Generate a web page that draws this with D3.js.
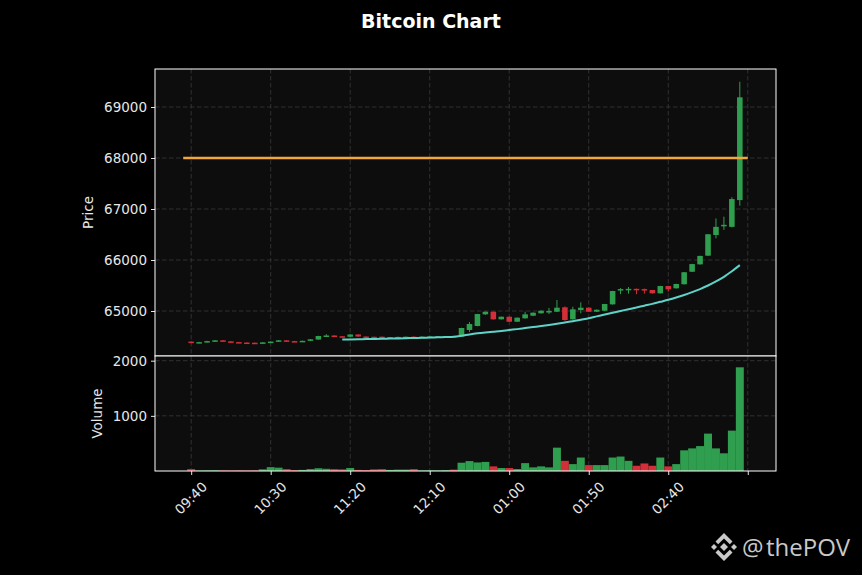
<!DOCTYPE html>
<html>
<head>
<meta charset="utf-8">
<title>Bitcoin Chart</title>
<script src="https://cdn.jsdelivr.net/npm/d3@7"></script>
<style>
  body { margin: 0; background: #000; }
  svg { display: block; font-family: "DejaVu Sans", sans-serif; }
  .axis text { fill: #e6e6e6; font-size: 13.5px; font-family: "DejaVu Sans", sans-serif; }
  .axis line { stroke: #e6e6e6; }
  .grid line { stroke: #3a3a3a; stroke-width: 0.8; stroke-dasharray: 4.5,2.5; }
</style>
</head>
<body>
<div id="chart"></div>
<script>

// candle times (5 minute bars)

var times = [
	"09:40","09:45","09:50","09:55","10:00","10:05","10:10","10:15","10:20","10:25",
	"10:30","10:35","10:40","10:45","10:50","10:55","11:00","11:05","11:10","11:15",
	"11:20","11:25","11:30","11:35","11:40","11:45","11:50","11:55","12:00","12:05",
	"12:10","12:15","12:20","12:25","12:30","12:35","12:40","12:45","12:50","12:55",
	"13:00","13:05","13:10","13:15","13:20","13:25","13:30","13:35","13:40","13:45",
	"13:50","13:55","14:00","14:05","14:10","14:15","14:20","14:25","14:30","14:35",
	"14:40","14:45","14:50","14:55","15:00","15:05","15:10","15:15","15:20","15:25"
];

var opens = [
	64400, 64375, 64390, 64410, 64425, 64405, 64390, 64382, 64378, 64372,
	64385, 64400, 64425, 64410, 64400, 64415, 64440, 64508, 64520, 64505,
	64495, 64540, 64500, 64494, 64496, 64478, 64482, 64485, 64497, 64488,
	64490, 64494, 64497, 64506, 64500, 64628, 64706, 64935, 64986, 64837,
	64888, 64790, 64857, 64908, 64955, 64985, 64986, 65073, 64837, 65020,
	65065, 64986, 65006, 65131, 65415, 65420, 65435, 65430, 65412, 65347,
	65490, 65445, 65525, 65770, 65915, 66085, 66490, 66660, 66650, 67175
];

var highs = [
	64405, 64395, 64415, 64430, 64430, 64410, 64395, 64385, 64382, 64390,
	64405, 64430, 64430, 64415, 64420, 64450, 64515, 64545, 64525, 64510,
	64545, 64545, 64505, 64498, 64500, 64490, 64497, 64500, 64502, 64500,
	64503, 64506, 64510, 64510, 64672, 64784, 64945, 64990, 64990, 64892,
	64892, 64874, 64986, 64972, 65010, 65060, 65216, 65090, 65084, 65170,
	65070, 65030, 65140, 65395, 65450, 65470, 65440, 65440, 65415, 65495,
	65495, 65535, 65765, 65925, 66085, 66510, 66815, 66850, 67230, 69495
];

var lows = [
	64368, 64370, 64385, 64405, 64400, 64385, 64375, 64372, 64368, 64368,
	64380, 64395, 64405, 64395, 64395, 64410, 64435, 64500, 64495, 64490,
	64490, 64495, 64485, 64482, 64475, 64474, 64478, 64480, 64484, 64484,
	64486, 64490, 64492, 64494, 64495, 64588, 64700, 64925, 64830, 64832,
	64785, 64785, 64850, 64900, 64950, 64940, 64980, 64810, 64830, 64955,
	64980, 64980, 65000, 65125, 65330, 65340, 65330, 65340, 65342, 65342,
	65380, 65440, 65520, 65765, 65910, 66080, 66425, 66590, 66640, 67065
];

var closes = [
	64375, 64390, 64410, 64425, 64405, 64390, 64380, 64376, 64372, 64385,
	64400, 64425, 64410, 64400, 64415, 64445, 64510, 64520, 64500, 64495,
	64540, 64500, 64490, 64486, 64480, 64486, 64492, 64496, 64488, 64496,
	64499, 64502, 64506, 64498, 64667, 64745, 64941, 64986, 64837, 64888,
	64790, 64869, 64935, 64967, 65006, 65000, 65065, 64824, 65033, 65065,
	64986, 65025, 65137, 65392, 65430, 65435, 65420, 65410, 65347, 65490,
	65425, 65530, 65760, 65920, 66080, 66505, 66650, 66690, 67195, 69190
];

var volumes = [
	35, 8, 10, 12, 10, 8, 10, 8, 10, 30,
	70, 60, 35, 15, 20, 35, 50, 40, 35, 30,
	55, 20, 15, 30, 35, 20, 25, 25, 35, 10,
	12, 10, 15, 25, 150, 180, 155, 165, 84, 54,
	54, 36, 143, 66, 84, 66, 423, 184, 125, 244,
	107, 107, 107, 244, 262, 184, 95, 137, 95, 244,
	84, 125, 375, 410, 452, 678, 410, 321, 732, 1880
];

// moving average line, starts at the 20th candle (11:15)

var maStart = 19;
var maValues = [
	64440, 64443, 64446, 64449, 64452, 64455, 64459, 64463, 64467, 64471,
	64475, 64479, 64484, 64489, 64495, 64515, 64540, 64562, 64580, 64595,
	64610, 64628, 64645, 64665, 64685, 64705, 64726, 64750, 64775, 64800,
	64830, 64860, 64895, 64930, 64965, 65000, 65035, 65070, 65105, 65140,
	65180, 65220, 65265, 65315, 65370, 65430, 65500, 65580, 65670, 65780,
	65900
];

// horizontal level line

var levelPrice = 68000;
var levelStart = "09:35";
var levelEnd = "15:30";

// ticks

var priceTicks = [65000, 66000, 67000, 68000, 69000];
var volumeTicks = [1000, 2000];
var xTickTimes = ["09:40", "10:30", "11:20", "12:10", "13:00", "13:50", "14:40", "15:30"];
var xTickLabels = ["09:40", "10:30", "11:20", "12:10", "01:00", "01:50", "02:40", ""];


// set size of entire chart area

var svgWidth = 862;
var svgHeight = 575;

var margin = { top: 69, left: 155, right: 86 };

var width = svgWidth - margin.left - margin.right;
var priceHeight = 287;
var volumeHeight = 115;

var upColor = "#2f9e4f";
var downColor = "#d22f38";

var parseTime = d3.timeParse("%H:%M");

var candles = times.map(function(t, i) {
	return {
		time: parseTime(t),
		open: opens[i],
		high: highs[i],
		low: lows[i],
		close: closes[i],
		volume: volumes[i]
	};
});

var maData = maValues.map(function(v, i) {
	return { time: parseTime(times[maStart + i]), value: v };
});

// x domain: level line span plus 5% padding on each side

var t0 = parseTime(levelStart);
var t1 = parseTime(levelEnd);
var pad = (t1 - t0) * 0.05;

var xScale = d3.scaleTime()
	.domain([new Date(+t0 - pad), new Date(+t1 + pad)])
	.range([0, width]);

var yPrice = d3.scaleLinear()
	.domain([64118, 69745])
	.range([priceHeight, 0]);

var yVolume = d3.scaleLinear()
	.domain([0, 2085])
	.range([volumeHeight, 0]);

var step = xScale(candles[1].time) - xScale(candles[0].time);
var bodyWidth = step * 0.7;

var svg = d3.select("#chart")
	.append("svg")
	.attr("width", svgWidth)
	.attr("height", svgHeight)
	.style("background", "#000");

// title

svg.append("text")
	.attr("x", svgWidth / 2)
	.attr("y", 28)
	.attr("text-anchor", "middle")
	.attr("fill", "#ffffff")
	.attr("font-size", "19px")
	.attr("font-weight", "bold")
	.text("Bitcoin Chart");

// ---------- price panel ----------

var priceGroup = svg.append("g")
	.attr("transform", `translate(${margin.left}, ${margin.top})`);

priceGroup.append("rect")
	.attr("width", width)
	.attr("height", priceHeight)
	.attr("fill", "#0d0d0d");

// grid

priceGroup.append("g")
	.attr("class", "grid")
	.selectAll("line")
	.data(priceTicks)
	.enter()
	.append("line")
	.attr("x1", 0)
	.attr("x2", width)
	.attr("y1", d => yPrice(d))
	.attr("y2", d => yPrice(d));

priceGroup.append("g")
	.attr("class", "grid")
	.selectAll("line")
	.data(xTickTimes)
	.enter()
	.append("line")
	.attr("x1", d => xScale(parseTime(d)))
	.attr("x2", d => xScale(parseTime(d)))
	.attr("y1", 0)
	.attr("y2", priceHeight);

// candles

var candleGroup = priceGroup.selectAll(".candle")
	.data(candles)
	.enter()
	.append("g")
	.attr("class", "candle");

candleGroup.append("line")
	.attr("x1", d => xScale(d.time))
	.attr("x2", d => xScale(d.time))
	.attr("y1", d => yPrice(d.high))
	.attr("y2", d => yPrice(d.low))
	.attr("stroke", d => d.close >= d.open ? upColor : downColor)
	.attr("stroke-width", 1);

candleGroup.append("rect")
	.attr("x", d => xScale(d.time) - bodyWidth / 2)
	.attr("y", d => yPrice(Math.max(d.open, d.close)))
	.attr("width", bodyWidth)
	.attr("height", d => Math.max(1.5, Math.abs(yPrice(d.open) - yPrice(d.close))))
	.attr("fill", d => d.close >= d.open ? upColor : downColor);

// moving average

var maLine = d3.line()
	.x(d => xScale(d.time))
	.y(d => yPrice(d.value))
	.curve(d3.curveMonotoneX);

priceGroup.append("path")
	.datum(maData)
	.attr("d", maLine)
	.attr("fill", "none")
	.attr("stroke", "#5fd3c8")
	.attr("stroke-width", 2);

// level line

priceGroup.append("line")
	.attr("x1", xScale(t0))
	.attr("x2", xScale(t1))
	.attr("y1", yPrice(levelPrice))
	.attr("y2", yPrice(levelPrice))
	.attr("stroke", "#f2a73c")
	.attr("stroke-width", 2.6);

// price axis

var priceAxis = priceGroup.append("g")
	.attr("class", "axis")
	.call(d3.axisLeft(yPrice)
		.tickValues(priceTicks)
		.tickFormat(d3.format("d"))
		.tickSize(4)
		.tickPadding(4));

priceAxis.select(".domain").remove();

priceGroup.append("rect")
	.attr("width", width)
	.attr("height", priceHeight)
	.attr("fill", "none")
	.attr("stroke", "#ffffff")
	.attr("stroke-width", 1);

priceGroup.append("text")
	.attr("transform", `translate(${88 - margin.left}, ${priceHeight / 2}) rotate(-90)`)
	.attr("text-anchor", "middle")
	.attr("dominant-baseline", "central")
	.attr("fill", "#e6e6e6")
	.attr("font-size", "13.5px")
	.text("Price");

// ---------- volume panel ----------

var volumeGroup = svg.append("g")
	.attr("transform", `translate(${margin.left}, ${margin.top + priceHeight})`);

volumeGroup.append("rect")
	.attr("width", width)
	.attr("height", volumeHeight)
	.attr("fill", "#0d0d0d");

volumeGroup.append("g")
	.attr("class", "grid")
	.selectAll("line")
	.data(volumeTicks)
	.enter()
	.append("line")
	.attr("x1", 0)
	.attr("x2", width)
	.attr("y1", d => yVolume(d))
	.attr("y2", d => yVolume(d));

volumeGroup.append("g")
	.attr("class", "grid")
	.selectAll("line")
	.data(xTickTimes)
	.enter()
	.append("line")
	.attr("x1", d => xScale(parseTime(d)))
	.attr("x2", d => xScale(parseTime(d)))
	.attr("y1", 0)
	.attr("y2", volumeHeight);

volumeGroup.selectAll(".vol")
	.data(candles)
	.enter()
	.append("rect")
	.attr("class", "vol")
	.attr("x", d => xScale(d.time) - step / 2)
	.attr("y", d => yVolume(d.volume))
	.attr("width", step)
	.attr("height", d => volumeHeight - yVolume(d.volume))
	.attr("fill", d => d.close >= d.open ? upColor : downColor);

var volumeAxis = volumeGroup.append("g")
	.attr("class", "axis")
	.call(d3.axisLeft(yVolume)
		.tickValues(volumeTicks)
		.tickFormat(d3.format("d"))
		.tickSize(4)
		.tickPadding(4));

volumeAxis.select(".domain").remove();

// time axis

var timeAxis = volumeGroup.append("g")
	.attr("class", "axis")
	.attr("transform", `translate(0, ${volumeHeight})`)
	.call(d3.axisBottom(xScale)
		.tickValues(xTickTimes.map(parseTime))
		.tickFormat((d, i) => xTickLabels[i])
		.tickSize(4));

timeAxis.select(".domain").remove();

timeAxis.selectAll("text")
	.attr("y", 0)
	.attr("dy", 0)
	.attr("text-anchor", "middle")
	.attr("dominant-baseline", "central")
	.attr("transform", "translate(-1, 27) rotate(-45)");

volumeGroup.append("rect")
	.attr("width", width)
	.attr("height", volumeHeight)
	.attr("fill", "none")
	.attr("stroke", "#ffffff")
	.attr("stroke-width", 1);

volumeGroup.append("text")
	.attr("transform", `translate(${97 - margin.left}, ${volumeHeight / 2}) rotate(-90)`)
	.attr("text-anchor", "middle")
	.attr("dominant-baseline", "central")
	.attr("fill", "#e6e6e6")
	.attr("font-size", "13.5px")
	.text("Volume");

// ---------- watermark ----------

var mark = svg.append("g")
	.attr("transform", "translate(724, 547)")
	.attr("fill", "#c9c9c9");

mark.append("path").attr("d", "M0,-4 L4,0 L0,4 L-4,0 Z");
mark.append("path").attr("d", "M-10,-3 L-7,0 L-10,3 L-13,0 Z");
mark.append("path").attr("d", "M10,-3 L13,0 L10,3 L7,0 Z");
mark.append("path").attr("d", "M0,-14 L8.5,-5.5 L5.8,-2.8 L0,-8.6 L-5.8,-2.8 L-8.5,-5.5 Z");
mark.append("path").attr("d", "M0,14 L8.5,5.5 L5.8,2.8 L0,8.6 L-5.8,2.8 L-8.5,5.5 Z");

svg.append("text")
	.attr("x", 742)
	.attr("y", 556)
	.attr("fill", "#c9c9c9")
	.attr("font-family", "'Open Sans', sans-serif")
	.attr("font-size", "24px")
	.text("@");

svg.append("text")
	.attr("x", 766)
	.attr("y", 556)
	.attr("fill", "#c9c9c9")
	.attr("font-family", "'Open Sans', sans-serif")
	.attr("font-size", "24px")
	.text("thePOV");

</script>
</body>
</html>
